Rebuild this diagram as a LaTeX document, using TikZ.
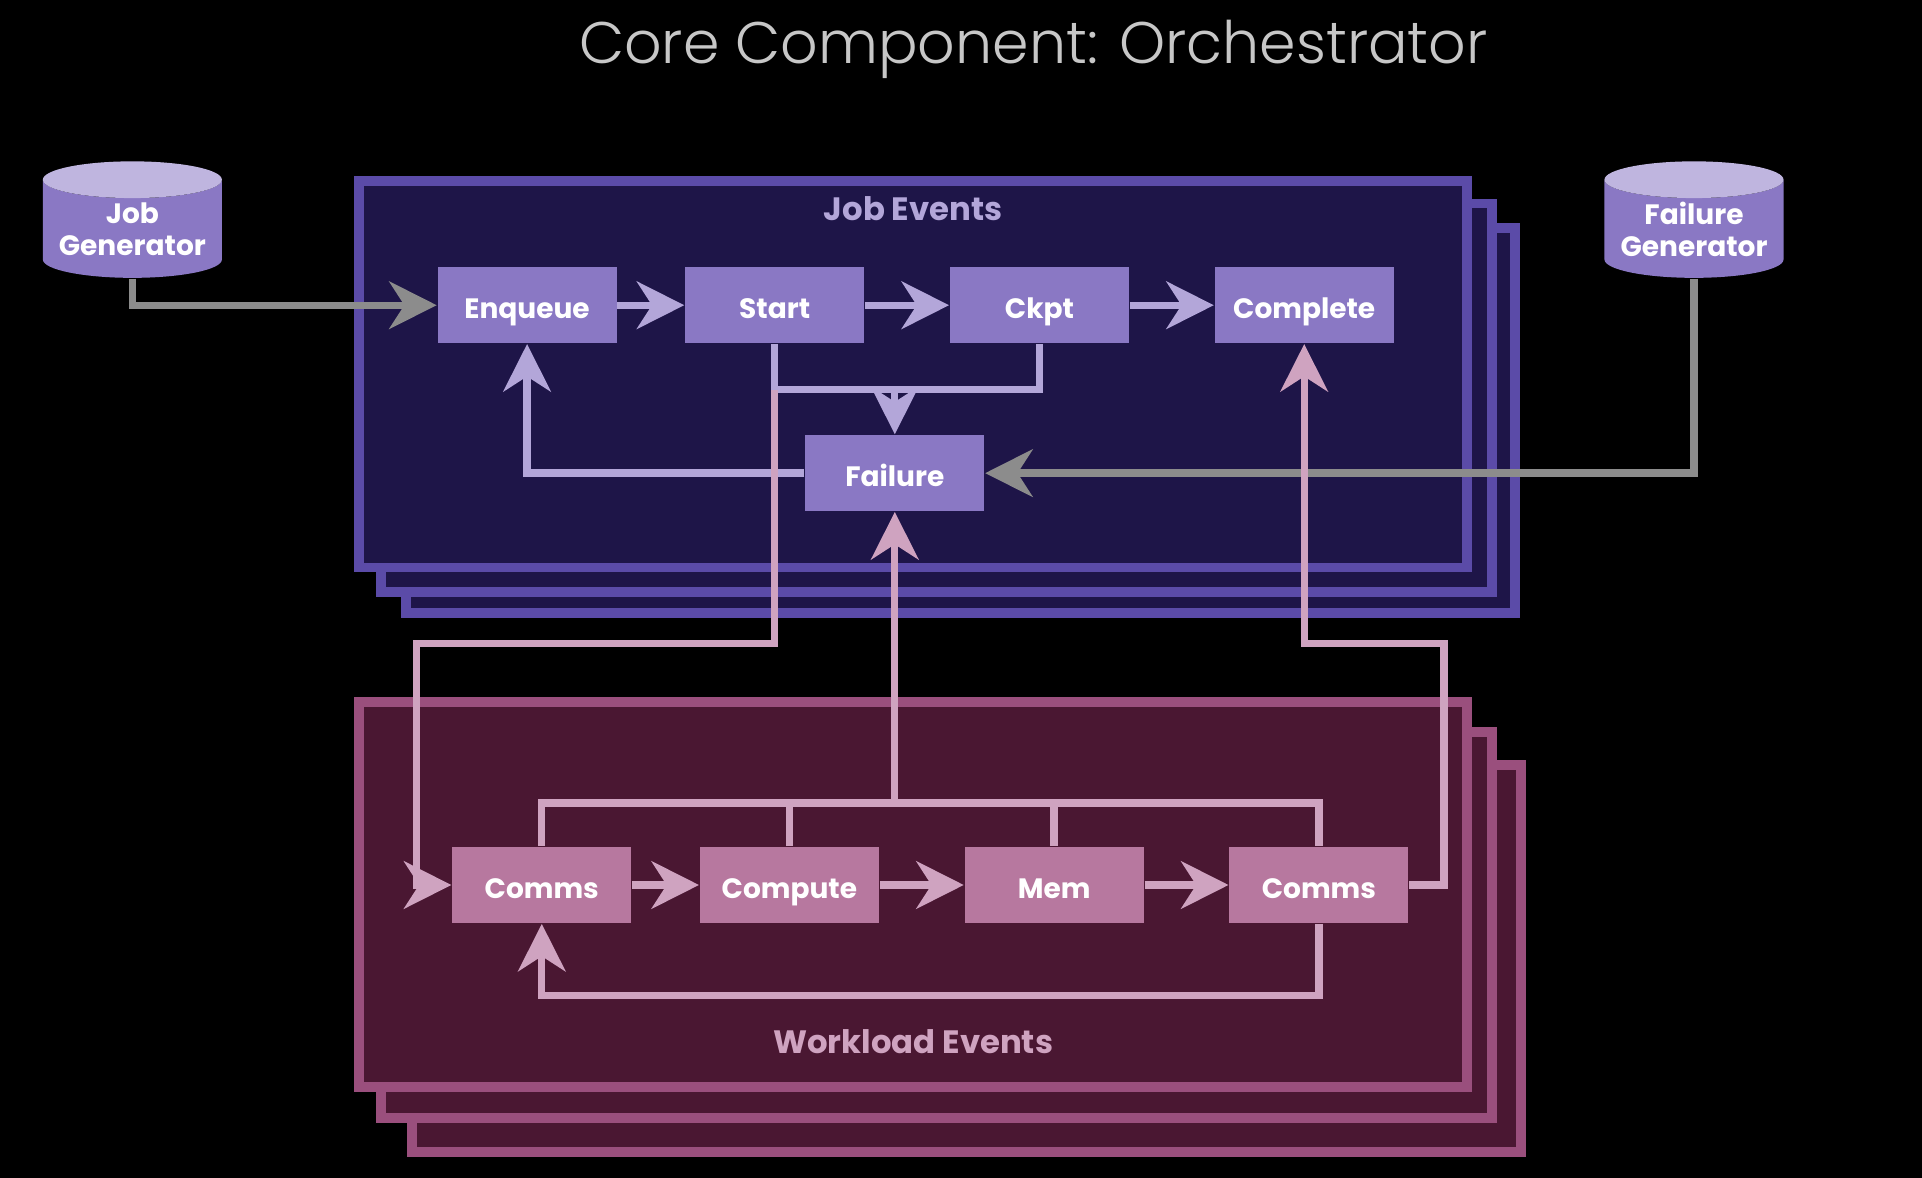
\documentclass[tikz,border=0pt]{standalone}
\usepackage{fontspec}
\setmainfont{Poppins}
\newfontfamily\lightfont{Poppins}[UprightFont=* Light]
\usetikzlibrary{shapes.geometric,arrows.meta}
\definecolor{bg}{HTML}{000000}
\definecolor{jbord}{HTML}{5B4BA8}
\definecolor{jfill}{HTML}{1E1548}
\definecolor{jnode}{HTML}{8A78C4}
\definecolor{jarr}{HTML}{B3A6D9}
\definecolor{wbord}{HTML}{9A4F7D}
\definecolor{wfill}{HTML}{4A1732}
\definecolor{wnode}{HTML}{B7789F}
\definecolor{warr}{HTML}{CFA3C0}
\definecolor{garr}{HTML}{8C8C8C}
\tikzset{
 box/.style={draw=#1,line width=2.3pt},
 jn/.style={fill=jnode,minimum width=1.46cm,minimum height=0.62cm,inner sep=0,text=white,text height=1.6ex,text depth=0.45ex,font=\fontsize{6.5}{7}\selectfont\bfseries},
 wn/.style={jn,fill=wnode},
 cyl/.style={cylinder,shape border rotate=90,aspect=0.25,minimum width=1.46cm,minimum height=0.95cm,inner sep=0,cylinder uses custom fill,cylinder body fill=jnode,cylinder end fill=jnode!55!white,text=white,align=center,font=\fontsize{6.5}{7.5}\selectfont\bfseries},
 con/.style={line width=1.7pt,draw=#1,arrows={-Stealth[length=11pt,width=11pt,inset=3.5pt]}},
 lin/.style={line width=1.7pt,draw=#1},
}
\begin{document}
\begin{tikzpicture}[x=0.01cm,y=-0.01cm]
\fill[bg] (0,0) rectangle (1568,961);
\useasboundingbox (0,0) rectangle (1568,961);
\node[text=black!22,font=\fontsize{13.6}{15}\lightfont] (title) at (843,40) {Core Component: Orchestrator};
% job events stack
\foreach \a/\b/\c/\d in {331/186/1236/500,311/166/1217/483,293/148/1197/463}
 \draw[box=jbord,fill=jfill] (\a,\b) rectangle (\c,\d);
\node[text=jarr,font=\fontsize{7.5}{8}\selectfont\bfseries] (jl) at (745,170) {Job Events};
% workload stack
\foreach \a/\b/\c/\d in {336/624/1241/940,311/597/1217/912,293/573/1197/887}
 \draw[box=wbord,fill=wfill] (\a,\b) rectangle (\c,\d);
\node[text=warr,font=\fontsize{7.5}{8}\selectfont\bfseries] (wl) at (745,850) {Workload Events};
% nodes
\node[jn] (enq) at (430,249) {Enqueue};
\node[jn] (start) at (632,249) {Start};
\node[jn] (ckpt) at (848,249) {Ckpt};
\node[jn] (comp) at (1064,249) {Complete};
\node[jn] (fail) at (730,386) {Failure};
\node[cyl] (jg) at (108,187) {Job\\Generator};
\node[cyl] (fg) at (1382,187) {Failure\\Generator};
\node[wn] (c1) at (442,722) {Comms};
\node[wn] (cp) at (644,722) {Compute};
\node[wn] (mem) at (860,722) {Mem};
\node[wn] (c2) at (1076,722) {Comms};
\coordinate (j1) at (632,318);
\coordinate (j2) at (730,318);
\coordinate (w1) at (730,655);
% gray
\draw[con=garr] (jg.south) |- (enq.west);
\draw[con=garr] (fg.south) |- (fail.east);
% job arrows
\draw[con=jarr] (enq) -- (start);
\draw[con=jarr] (start) -- (ckpt);
\draw[con=jarr] (ckpt) -- (comp);
\draw[lin=jarr] (start.south) -- (j1) -| (ckpt.south);
\draw[con=jarr] (j2) -- (fail.north);
\draw[con=jarr] (fail.west) -| (enq.south);
% pink cross links
\draw[con=warr] (j1) -- (632,525) -- (340,525) |- (c1.west);
\draw[con=warr] (c2.east) -- (1178,722) -- (1178,525) -| (comp.south);
% workload
\draw[con=warr] (c1) -- (cp);
\draw[con=warr] (cp) -- (mem);
\draw[con=warr] (mem) -- (c2);
\draw[lin=warr] (c1.north) |- (1076,655) -- (c2.north);
\draw[lin=warr] (cp.north) -- (644,655);
\draw[lin=warr] (mem.north) -- (860,655);
\draw[con=warr] (w1) -- (fail.south);
\draw[con=warr] (c2.south) -- (1076,812) -| (c1.south);
\end{tikzpicture}
\end{document}
